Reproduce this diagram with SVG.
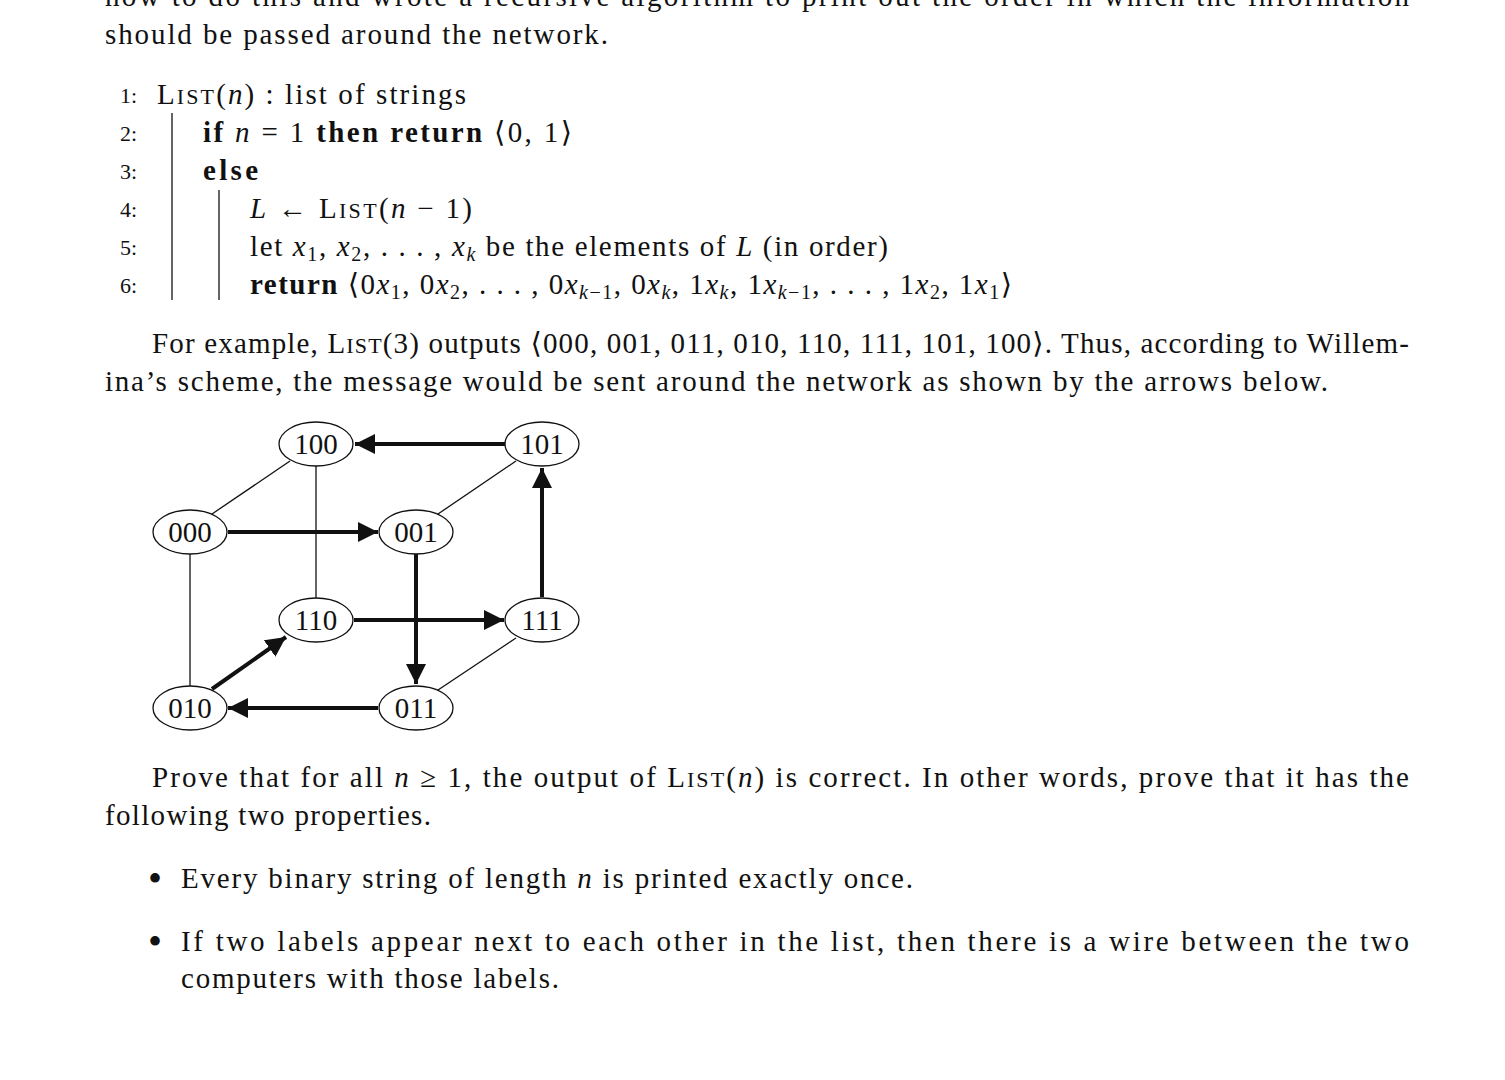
<svg xmlns="http://www.w3.org/2000/svg" width="1505" height="1080" viewBox="0 0 1505 1080">
<style>
text{font-family:"Liberation Serif","DejaVu Serif",serif;font-size:29px;fill:#111}
.n{font-size:22px}
.sc{font-size:22px}
.i{font-style:italic}
.b{font-weight:bold}
.s{font-size:20px}
.e{fill:#fff;stroke:#111;stroke-width:1.3}
.t{stroke:#111;stroke-width:1.3}
.k{stroke:#111;stroke-width:4;marker-end:url(#a)}
.l{font-size:29px;text-anchor:middle}
</style>
<defs><marker id="a" viewBox="0 0 10 10" refX="10" refY="5" markerWidth="5" markerHeight="5" orient="auto" markerUnits="strokeWidth"><path d="M0,0L10,5L0,10z" fill="#111"/></marker></defs>
<rect width="1505" height="1080" fill="#fff"/>
<text x="105" y="6" textLength="1304">how to do this and wrote a recursive algorithm to print out the order in which the information</text>
<text x="105" y="44" textLength="503">should be passed around the network.</text>
<text class="n" x="120" y="103">1:</text>
<text x="157" y="104" textLength="309">L<tspan class="sc">IST</tspan>(<tspan class="i">n</tspan>) : list of strings</text>
<text class="n" x="120" y="141">2:</text>
<text x="203" y="142" textLength="369"><tspan class="b">if</tspan> <tspan class="i">n</tspan> = 1 <tspan class="b">then return</tspan> ⟨0, 1⟩</text>
<text class="n" x="120" y="179">3:</text>
<text x="203" y="180" class="b" textLength="55">else</text>
<text class="n" x="120" y="217">4:</text>
<text x="250" y="218" textLength="222"><tspan class="i">L</tspan> ← L<tspan class="sc">IST</tspan>(<tspan class="i">n</tspan> − 1)</text>
<text class="n" x="120" y="255">5:</text>
<text x="250" y="256" textLength="638">let <tspan class="i">x</tspan><tspan class="s" dy="5">1</tspan><tspan dy="-5">, </tspan><tspan class="i">x</tspan><tspan class="s" dy="5">2</tspan><tspan dy="-5">, . . . , </tspan><tspan class="i">x</tspan><tspan class="s i" dy="5">k</tspan><tspan dy="-5"> be the elements of </tspan><tspan class="i">L</tspan> (in order)</text>
<text class="n" x="120" y="293">6:</text>
<text x="250" y="294" textLength="762"><tspan class="b">return</tspan> ⟨0<tspan class="i">x</tspan><tspan class="s" dy="5">1</tspan><tspan dy="-5">, 0</tspan><tspan class="i">x</tspan><tspan class="s" dy="5">2</tspan><tspan dy="-5">, . . . , 0</tspan><tspan class="i">x</tspan><tspan class="s" dy="5"><tspan class="i">k</tspan>−1</tspan><tspan dy="-5">, 0</tspan><tspan class="i">x</tspan><tspan class="s i" dy="5">k</tspan><tspan dy="-5">, 1</tspan><tspan class="i">x</tspan><tspan class="s i" dy="5">k</tspan><tspan dy="-5">, 1</tspan><tspan class="i">x</tspan><tspan class="s" dy="5"><tspan class="i">k</tspan>−1</tspan><tspan dy="-5">, . . . , 1</tspan><tspan class="i">x</tspan><tspan class="s" dy="5">2</tspan><tspan dy="-5">, 1</tspan><tspan class="i">x</tspan><tspan class="s" dy="5">1</tspan><tspan dy="-5">⟩</tspan></text>
<line class="t" x1="172" y1="113" x2="172" y2="300"/>
<line class="t" x1="219" y1="190" x2="219" y2="300"/>
<text x="152" y="353" textLength="1257">For example, L<tspan class="sc">IST</tspan>(3) outputs ⟨000, 001, 011, 010, 110, 111, 101, 100⟩. Thus, according to Willem-</text>
<text x="105" y="391" textLength="1223">ina’s scheme, the message would be sent around the network as shown by the arrows below.</text>
<g id="connectors">
<line class="t" x1="212" y1="514" x2="290" y2="461"/>
<line class="t" x1="438" y1="514" x2="516" y2="461"/>
<line class="t" x1="190" y1="554" x2="190" y2="686"/>
<line class="t" x1="316" y1="466" x2="316" y2="598"/>
<line class="t" x1="438" y1="690" x2="516" y2="638"/>
<line class="k" x1="505" y1="444" x2="355" y2="444"/>
<line class="k" x1="228" y1="532" x2="378" y2="532"/>
<line class="k" x1="354" y1="620" x2="504" y2="620"/>
<line class="k" x1="416" y1="554" x2="416" y2="684"/>
<line class="k" x1="542" y1="597" x2="542" y2="468"/>
<line class="k" x1="378" y1="708" x2="228" y2="708"/>
<line class="k" x1="212" y1="689" x2="286" y2="637"/>
</g>
<g id="n100"><ellipse class="e" cx="316" cy="444" rx="37" ry="22"/><text class="l" x="316" y="454">100</text></g>
<g id="n101"><ellipse class="e" cx="542" cy="444" rx="37" ry="22"/><text class="l" x="542" y="454">101</text></g>
<g id="n000"><ellipse class="e" cx="190" cy="532" rx="37" ry="22"/><text class="l" x="190" y="542">000</text></g>
<g id="n001"><ellipse class="e" cx="416" cy="532" rx="37" ry="22"/><text class="l" x="416" y="542">001</text></g>
<g id="n110"><ellipse class="e" cx="316" cy="620" rx="37" ry="22"/><text class="l" x="316" y="630">110</text></g>
<g id="n111"><ellipse class="e" cx="542" cy="620" rx="37" ry="22"/><text class="l" x="542" y="630">111</text></g>
<g id="n010"><ellipse class="e" cx="190" cy="708" rx="37" ry="22"/><text class="l" x="190" y="718">010</text></g>
<g id="n011"><ellipse class="e" cx="416" cy="708" rx="37" ry="22"/><text class="l" x="416" y="718">011</text></g>
<text x="152" y="787" textLength="1257">Prove that for all <tspan class="i">n</tspan> ≥ 1, the output of L<tspan class="sc">IST</tspan>(<tspan class="i">n</tspan>) is correct. In other words, prove that it has the</text>
<text x="105" y="825" textLength="326">following two properties.</text>
<text x="148" y="892" style="font-size:40px">•</text>
<text x="181" y="888" textLength="732">Every binary string of length <tspan class="i">n</tspan> is printed exactly once.</text>
<text x="148" y="955" style="font-size:40px">•</text>
<text x="181" y="951" textLength="1228">If two labels appear next to each other in the list, then there is a wire between the two</text>
<text x="181" y="988" textLength="378">computers with those labels.</text>
</svg>
